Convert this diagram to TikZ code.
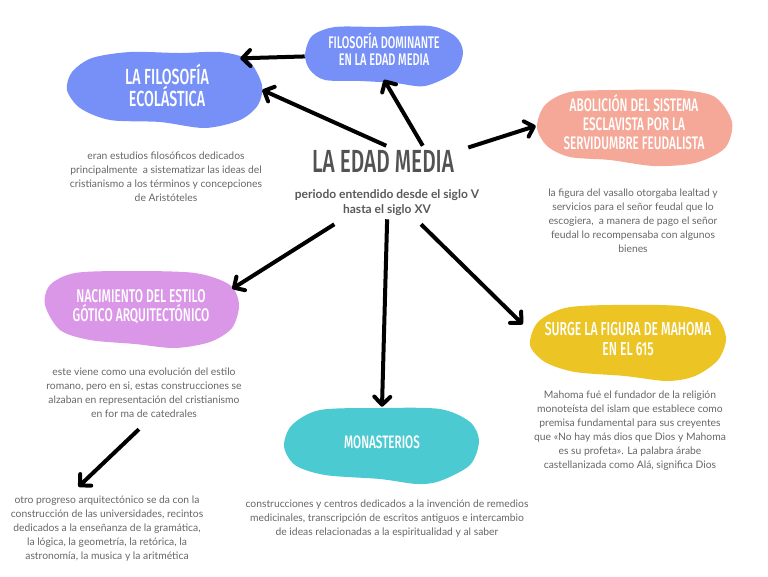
\documentclass[tikz,border=0pt]{standalone}
\usepackage{fontspec}
\setmainfont{Lato}
\newfontfamily\headfont[FakeStretch=0.65]{Fira Sans Medium}
\usetikzlibrary{arrows.meta}
\definecolor{blobblue}{HTML}{7690F8}
\definecolor{blobsalmon}{HTML}{F5A898}
\definecolor{blobpurple}{HTML}{DA97E8}
\definecolor{blobteal}{HTML}{4CCAD2}
\definecolor{blobyellow}{HTML}{ECC424}
\definecolor{bodygray}{HTML}{666666}
\tikzset{
  boxsize/.style 2 args={inner sep=0pt,minimum width=#1*0.75pt,minimum height=#2*0.75pt},
  head/.style 2 args={white,align=center,font=\headfont\fontsize{#1}{#2}\selectfont},
  note/.style={bodygray,align=center,font=\fontsize{7.75}{10.5}\selectfont},
  barb/.style={line width=3pt,-{Straight Barb[length=6pt,width=12pt,round]}}
}
\begin{document}
\begin{tikzpicture}[x=0.75pt,y=-0.75pt]
  \useasboundingbox (0,0) rectangle (768,576);
  \fill[blobblue] plot[smooth cycle] coordinates {(67,90) (72,72) (92,58) (130,52) (180,53) (220,52) (248,60) (262,85) (258,105) (240,120) (205,128) (160,122) (110,120) (80,108)};
  \fill[blobblue] plot[smooth cycle] coordinates {(305,55) (312,36) (335,27) (380,27) (430,26) (455,36) (463,52) (455,72) (425,86) (395,83) (360,81) (325,80) (310,70)};
  \fill[blobsalmon] plot[smooth cycle] coordinates {(537,127) (545,105) (570,92) (620,90) (680,90) (715,97) (732,122) (725,148) (695,163) (654,166) (610,160) (570,157) (547,146)};
  \fill[blobpurple] plot[smooth cycle] coordinates {(45,305) (50,285) (75,273) (130,271) (195,273) (230,285) (239,305) (232,328) (210,342) (175,348) (135,344) (90,340) (60,330)};
  \fill[blobteal] plot[smooth cycle] coordinates {(284,446) (292,425) (320,410) (380,408) (440,409) (470,422) (479,441) (470,465) (440,481) (417,484) (380,479) (325,475) (295,465)};
  \fill[blobyellow] plot[smooth cycle] coordinates {(530,345) (538,322) (565,308) (610,305) (680,306) (715,316) (726,338) (718,360) (695,376) (667,381) (625,376) (575,372) (545,362)};

  \node (title) at (383,161) [boxsize={170}{30},text=black!68,font=\headfont\fontsize{24}{24}\selectfont] {LA EDAD MEDIA};
  \node (period) at (387,203) [boxsize={190}{42},text=black!65,align=center,font=\bfseries\fontsize{9}{11.2}\selectfont] {periodo entendido desde el siglo V\\hasta el siglo XV};
  \node (ecol) at (167,85) [boxsize={190}{76},head={16.4}{16.5}] {LA FILOSOFÍA\\ECOLÁSTICA};
  \node (domin) at (384,49.5) [boxsize={158}{60},head={12.6}{12.8}] {FILOSOFÍA DOMINANTE\\EN LA EDAD MEDIA};
  \node (abol) at (634,122.5) [boxsize={196}{80},head={13.6}{14.2}] {ABOLICIÓN DEL SISTEMA\\ESCLAVISTA POR LA\\SERVIDUMBRE FEUDALISTA};
  \node (gotic) at (141,306.5) [boxsize={182}{78},head={13.8}{14.2}] {NACIMIENTO DEL ESTILO\\GÓTICO ARQUITECTÓNICO};
  \node (monast) at (382,442) [boxsize={195}{70},head={13.5}{14.2}] {MONASTERIOS};
  \node (mahoma) at (628,339) [boxsize={210}{76},head={14.1}{14.8}] {SURGE LA FIGURA DE MAHOMA\\EN EL 615};

  \node (ecoldesc) at (166,177) [note] {eran estudios filosóficos dedicados\\principalmente\ \ a sistematizar las ideas del\\cristianismo a los términos y concepciones\\de Aristóteles};
  \node (aboldesc) at (633,220.5) [note] {la figura del vasallo otorgaba lealtad y\\servicios para el señor feudal que lo\\escogiera,\ \ a manera de pago el señor\\feudal lo recompensaba con algunos\\bienes};
  \node (goticdesc) at (144,393) [note,boxsize={200}{72}] {este viene como una evolución del estilo\\romano, pero en si, estas construcciones se\\alzaban en representación del cristianismo\\en for ma de catedrales};
  \node (univdesc) at (107,529) [note,boxsize={200}{84}] {otro progreso arquitectónico se da con la\\construcción de las universidades, recintos\\dedicados a la enseñanza de la gramática,\\la lógica, la geometría, la retórica, la\\astronomía, la musica y la aritmética};
  \node (monastdesc) at (387,518.5) [note] {construcciones y centros dedicados a la invención de remedios\\medicinales, transcripción de escritos antiguos e intercambio\\de ideas relacionadas a la espiritualidad y al saber};
  \node (mahomadesc) at (630,430.5) [note] {Mahoma fué el fundador de la religión\\monoteísta del islam que establece como\\premisa fundamental para sus creyentes\\que «No hay más dios que Dios y Mahoma\\es su profeta». La palabra árabe\\castellanizada como Alá, significa Dios};

  \path[barb]
    (domin.185.5) edge[shorten >=-16.5pt] (ecol.16)
    (title.78.7) edge (ecol.357)
    (title.21) edge (domin.south)
    (title.9.5) edge (abol.182.6)
    (period.202.4) edge (gotic.11.5)
    (period.south) edge[shorten <=-3.75pt] (monast.north)
    (period.328.3) edge (mahoma.172.95)
    (goticdesc.262.1) edge (univdesc.124.5);
\end{tikzpicture}
\end{document}
